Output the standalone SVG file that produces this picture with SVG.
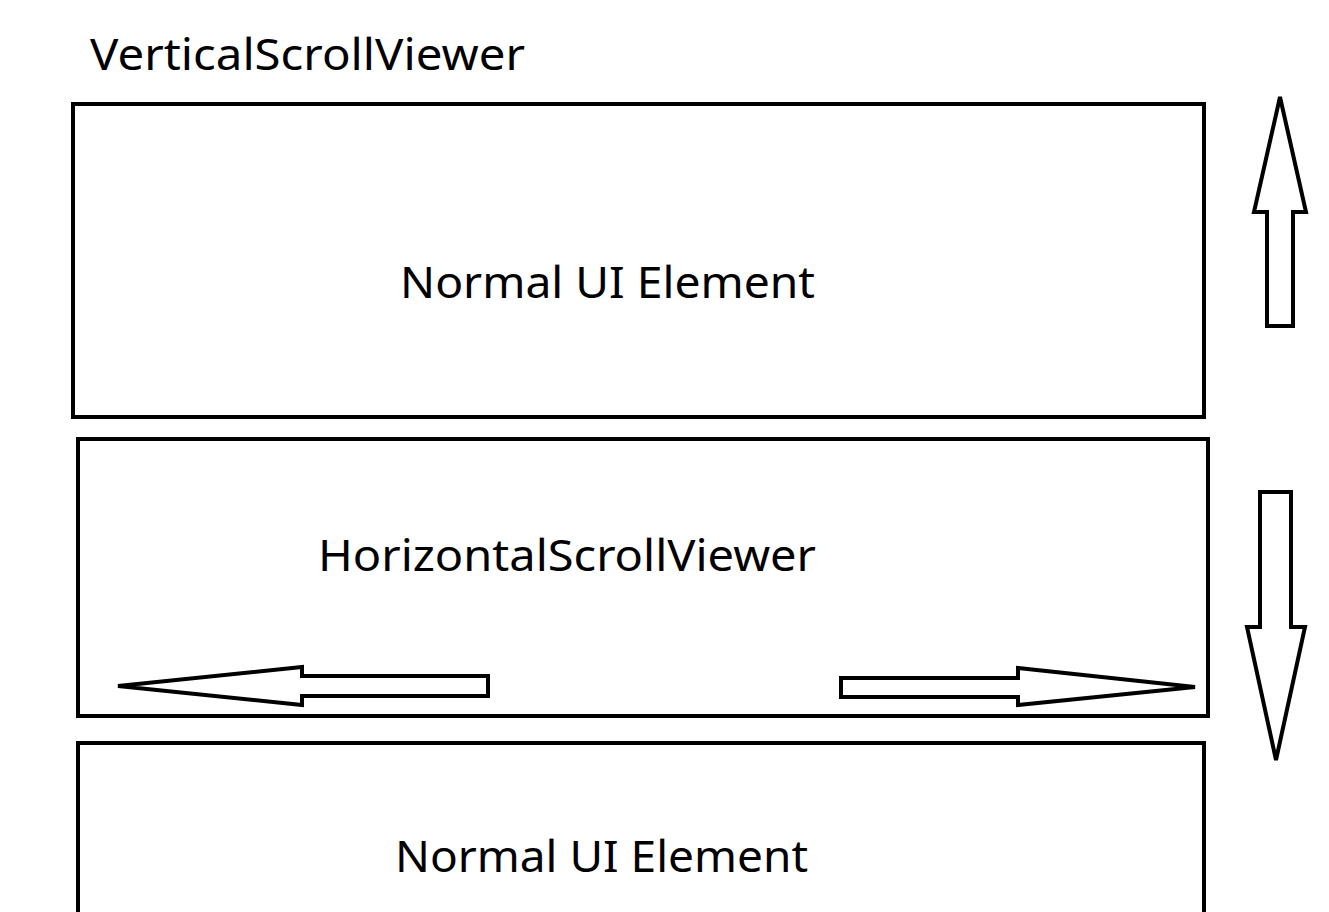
<svg xmlns="http://www.w3.org/2000/svg" width="1329" height="912" viewBox="0 0 1329 912">
<style>
.box{fill:#fff;stroke:#000;stroke-width:4}
.arr{fill:#fff;stroke:#000;stroke-width:4;stroke-linejoin:miter}
text{font-family:"Noto Sans","DejaVu Sans",sans-serif;font-size:44px;fill:#000}
</style>
<rect width="1329" height="912" fill="#fff"/>
<text id="title" x="90" y="70" textLength="435" lengthAdjust="spacingAndGlyphs">VerticalScrollViewer</text>
<g id="node1"><rect class="box" x="73" y="104" width="1131" height="313"/>
<text x="400" y="298" textLength="415" lengthAdjust="spacingAndGlyphs">Normal UI Element</text></g>
<g id="node2"><rect class="box" x="78" y="439" width="1130" height="277"/>
<text x="318" y="571" textLength="498" lengthAdjust="spacingAndGlyphs">HorizontalScrollViewer</text></g>
<g id="node3"><rect class="box" x="78" y="743" width="1126" height="200"/>
<text x="395" y="872" textLength="413" lengthAdjust="spacingAndGlyphs">Normal UI Element</text></g>
<g id="connectors">
<polygon class="arr" points="1280,97 1306,212 1293,212 1293,326 1267,326 1267,212 1254,212"/>
<polygon class="arr" points="1260,492 1291,492 1291,627 1305,627 1276,760 1247,627 1260,627"/>
<polygon class="arr" points="118,686 302,667 302,676 488,676 488,696 302,696 302,705"/>
<polygon class="arr" points="841,678 1018,678 1018,668 1195,687 1018,705 1018,697 841,697"/>
</g>
</svg>
